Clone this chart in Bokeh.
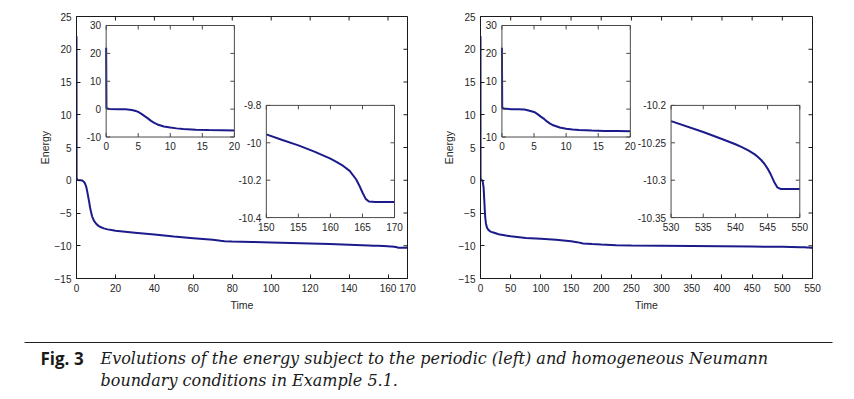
import numpy as np
from bokeh.plotting import figure
from bokeh.models import Range1d, FixedTicker
from bokeh.layouts import row, column
from bokeh.embed import file_html
from bokeh.resources import INLINE
from bokeh.core.properties import value

# ---------------- data ----------------
t_left = [0, 0.05, 0.5, 2, 3, 4, 4.5, 5, 5.5, 6, 6.5, 7, 7.5, 8, 9, 10, 11, 12, 14, 16, 18, 20,
          30, 40, 50, 60, 70, 72, 74, 76, 80, 90, 100, 110, 120, 130, 140,
          150, 152.5, 155, 157.5, 160, 161, 162, 163, 164, 164.5, 165, 165.5, 166, 167, 168, 170]
e_left = [22, 0.3, 0.05, 0, -0.05, -0.3, -0.6, -1.0, -1.7, -2.5, -3.3, -4.2, -4.9, -5.5, -6.2, -6.6, -6.9, -7.1, -7.35, -7.5, -7.6, -7.7,
          -8.0, -8.3, -8.6, -8.85, -9.1, -9.15, -9.25, -9.3, -9.35, -9.43, -9.5, -9.57, -9.65, -9.75, -9.85,
          -9.955, -9.985, -10.014, -10.047, -10.085, -10.104, -10.124, -10.15, -10.195, -10.228, -10.266, -10.30, -10.314, -10.316, -10.316, -10.316]

t_right = [0, 0.05, 0.5, 1.5, 2.5, 3.5, 4, 5, 5.5, 6, 6.5, 7, 7.5, 8, 9, 10, 11, 12, 14, 16, 18, 20,
           30, 50, 75, 100, 125, 150, 160, 170, 185, 200, 225, 250, 300, 350, 400, 450, 500,
           530, 535, 538, 540, 541, 542, 543, 543.5, 544, 544.5, 545, 545.5, 546, 546.5, 547, 548, 550]
e_right = [22, 0.5, 0.1, 0, 0, -0.1, -0.4, -1.0, -1.7, -2.6, -3.4, -4.4, -5.2, -5.8, -6.6, -7.0, -7.3, -7.45, -7.65, -7.8, -7.88, -7.95,
           -8.25, -8.55, -8.8, -8.95, -9.1, -9.3, -9.45, -9.65, -9.75, -9.82, -9.92, -9.97, -10.0, -10.03, -10.07, -10.12, -10.17,
           -10.221, -10.2356, -10.2452, -10.2520, -10.2558, -10.2602, -10.2655, -10.2690, -10.2730, -10.2780, -10.2845, -10.2925,
           -10.3020, -10.3095, -10.3117, -10.3117, -10.3117]

main_yticks = [-15, -10, -5, 0, 5, 10, 15, 20, 25]
left_xticks = [0, 20, 40, 60, 80, 100, 120, 140, 160, 170]
right_xticks = [0, 50, 100, 150, 200, 250, 300, 350, 400, 450, 500, 550]

early_xticks = [0, 5, 10, 15, 20]
early_yticks = [-10, 0, 10, 20, 30]
left_late_xticks = [150, 155, 160, 165, 170]
left_late_yticks = [-10.4, -10.2, -10.0, -9.8]
left_late_ylabels = ["-10.4", "-10.2", "-10", "-9.8"]
right_late_xticks = [530, 535, 540, 545, 550]
right_late_yticks = [-10.35, -10.3, -10.25, -10.2]
right_late_ylabels = ["-10.35", "-10.3", "-10.25", "-10.2"]

caption_line1 = "Evolutions of the energy subject to the periodic (left) and homogeneous Neumann"
caption_line2 = "boundary conditions in Example 5.1."

# ---------------- style ----------------
NAVY = "#1b1b8c"
TXT = "#262626"
FONT = "Liberation Sans"
FS = "10px"
FH = 262
TICK = 4


def style_main(p):
    p.xgrid.visible = False
    p.ygrid.visible = False
    p.outline_line_color = "#1a1a1a"
    p.outline_line_width = 1
    p.background_fill_color = "white"
    p.border_fill_color = "white"
    for ax in (p.xaxis[0], p.yaxis[0]):
        ax.major_tick_in = TICK
        ax.major_tick_out = 0
        ax.minor_tick_line_color = None
        ax.axis_line_color = "#1a1a1a"
        ax.major_tick_line_color = "#1a1a1a"
        ax.major_label_text_font = FONT
        ax.major_label_text_font_size = FS
        ax.major_label_text_color = TXT
        ax.major_label_standoff = 5
        ax.axis_label_text_font = FONT
        ax.axis_label_text_font_size = "10.5px"
        ax.axis_label_text_font_style = "normal"
        ax.axis_label_text_color = TXT
    p.yaxis[0].axis_label_standoff = 1
    p.xaxis[0].axis_label_standoff = 4


def make_main(t, e, x_end, xticks, bl, fw, br):
    p = figure(frame_width=fw, frame_height=FH, min_border_left=bl, min_border_right=br,
               min_border_top=16, min_border_bottom=50,
               x_range=Range1d(0, x_end), y_range=Range1d(-15, 25),
               output_backend="svg", toolbar_location=None)
    style_main(p)
    p.xaxis.ticker = FixedTicker(ticks=xticks)
    p.yaxis.ticker = FixedTicker(ticks=main_yticks)
    p.xaxis.axis_label = "Time"
    p.yaxis.axis_label = "Energy"
    p.line(t, e, line_color=NAVY, line_width=2)
    # ticks on top and right edges (inward)
    ytop, ybot = 25, -15
    dy = TICK * (ytop - ybot) / FH
    dx = TICK * x_end / fw
    n = len(xticks)
    p.segment(x0=xticks, y0=[ytop] * n, x1=xticks, y1=[ytop - dy] * n, line_color="#1a1a1a", line_width=1)
    m = len(main_yticks)
    p.segment(x0=[x_end] * m, y0=main_yticks, x1=[x_end - dx] * m, y1=main_yticks, line_color="#1a1a1a", line_width=1)
    return p


def add_inset(p, x_end, fw, box, t, e, xr, yr, xticks, xlabels, yticks, ylabels):
    fx0, fx1, fyt, fyb = box
    my0, my1 = -15, 25
    x_target = Range1d(fx0 * x_end, fx1 * x_end)
    y_target = Range1d(my1 - fyb * (my1 - my0), my1 - fyt * (my1 - my0))
    sub = p.subplot(x_source=Range1d(*xr), y_source=Range1d(*yr), x_target=x_target, y_target=y_target)
    wpx = (fx1 - fx0) * fw
    hpx = (fyb - fyt) * FH
    sub.quad(left=[xr[0]], right=[xr[1]], bottom=[yr[0]], top=[yr[1]], fill_color="white", line_color=None)
    ta = np.array(t, dtype=float)
    ea = np.array(e, dtype=float)
    sel = (ta >= xr[0]) & (ta <= xr[1])
    sub.line(ta[sel], ea[sel], line_color=NAVY, line_width=2)
    sub.quad(left=[xr[0]], right=[xr[1]], bottom=[yr[0]], top=[yr[1]], fill_color=None,
             line_color="#4a4a4a", line_width=1)
    tx = TICK * (yr[1] - yr[0]) / hpx
    ty = TICK * (xr[1] - xr[0]) / wpx
    n = len(xticks)
    sub.segment(x0=xticks, y0=[yr[0]] * n, x1=xticks, y1=[yr[0] + tx] * n, line_color="#4a4a4a")
    sub.segment(x0=xticks, y0=[yr[1]] * n, x1=xticks, y1=[yr[1] - tx] * n, line_color="#4a4a4a")
    m = len(yticks)
    sub.segment(x0=[xr[0]] * m, y0=yticks, x1=[xr[0] + ty] * m, y1=yticks, line_color="#4a4a4a")
    sub.segment(x0=[xr[1]] * m, y0=yticks, x1=[xr[1] - ty] * m, y1=yticks, line_color="#4a4a4a")
    sub.text(x=xticks, y=[yr[0]] * n, text=xlabels, y_offset=5, text_align="center", text_baseline="top",
             text_font=value(FONT), text_font_size=FS, text_color=TXT)
    sub.text(x=[xr[0]] * m, y=yticks, text=ylabels, x_offset=-5, text_align="right", text_baseline="middle",
             text_font=value(FONT), text_font_size=FS, text_color=TXT)


# left main
FW_L = 331
pl = make_main(t_left, e_left, 170, left_xticks, 76, FW_L, 21)
add_inset(pl, 170, FW_L, (0.0896, 0.477, 0.0343, 0.460), t_left, e_left, (0, 20), (-10, 30),
          early_xticks, [str(v) for v in early_xticks], early_yticks, [str(v) for v in early_yticks])
add_inset(pl, 170, FW_L, (0.5735, 0.9608, 0.3393, 0.7675), t_left, e_left, (150, 170), (-10.4, -9.8),
          left_late_xticks, [str(v) for v in left_late_xticks], left_late_yticks, left_late_ylabels)

# right main
FW_R = 332
pr = make_main(t_right, e_right, 550, right_xticks, 52, FW_R, 34)
add_inset(pr, 550, FW_R, (0.0645, 0.4513, 0.0343, 0.460), t_right, e_right, (0, 20), (-10, 30),
          early_xticks, [str(v) for v in early_xticks], early_yticks, [str(v) for v in early_yticks])
add_inset(pr, 550, FW_R, (0.574, 0.9617, 0.3393, 0.7675), t_right, e_right, (530, 550), (-10.35, -10.2),
          right_late_xticks, [str(v) for v in right_late_xticks], right_late_yticks, right_late_ylabels)

# caption
cap = figure(width=846, height=63, x_range=Range1d(0, 846), y_range=Range1d(63, 0),
             x_axis_type=None, y_axis_type=None, min_border=0,
             output_backend="svg", toolbar_location=None)
cap.xgrid.visible = False
cap.ygrid.visible = False
cap.outline_line_color = None
cap.segment(x0=[24], y0=[14], x1=[832], y1=[14], line_color="#222222", line_width=1.2)
cap.text(x=[40], y=[30], text=["Fig. 3"], text_font=value("Open Sans"), text_font_style="bold",
         text_font_size="17px", text_baseline="middle", text_color="#1a1a1a")
cap.text(x=[100, 100], y=[30, 52], text=[caption_line1, caption_line2], text_font=value("DejaVu Serif"),
         text_font_style="italic", text_font_size="16px", text_baseline="middle", text_color="#1a1a1a")

layout = column(row(pl, pr), cap)
open("out.html", "w").write(file_html(layout, INLINE))
